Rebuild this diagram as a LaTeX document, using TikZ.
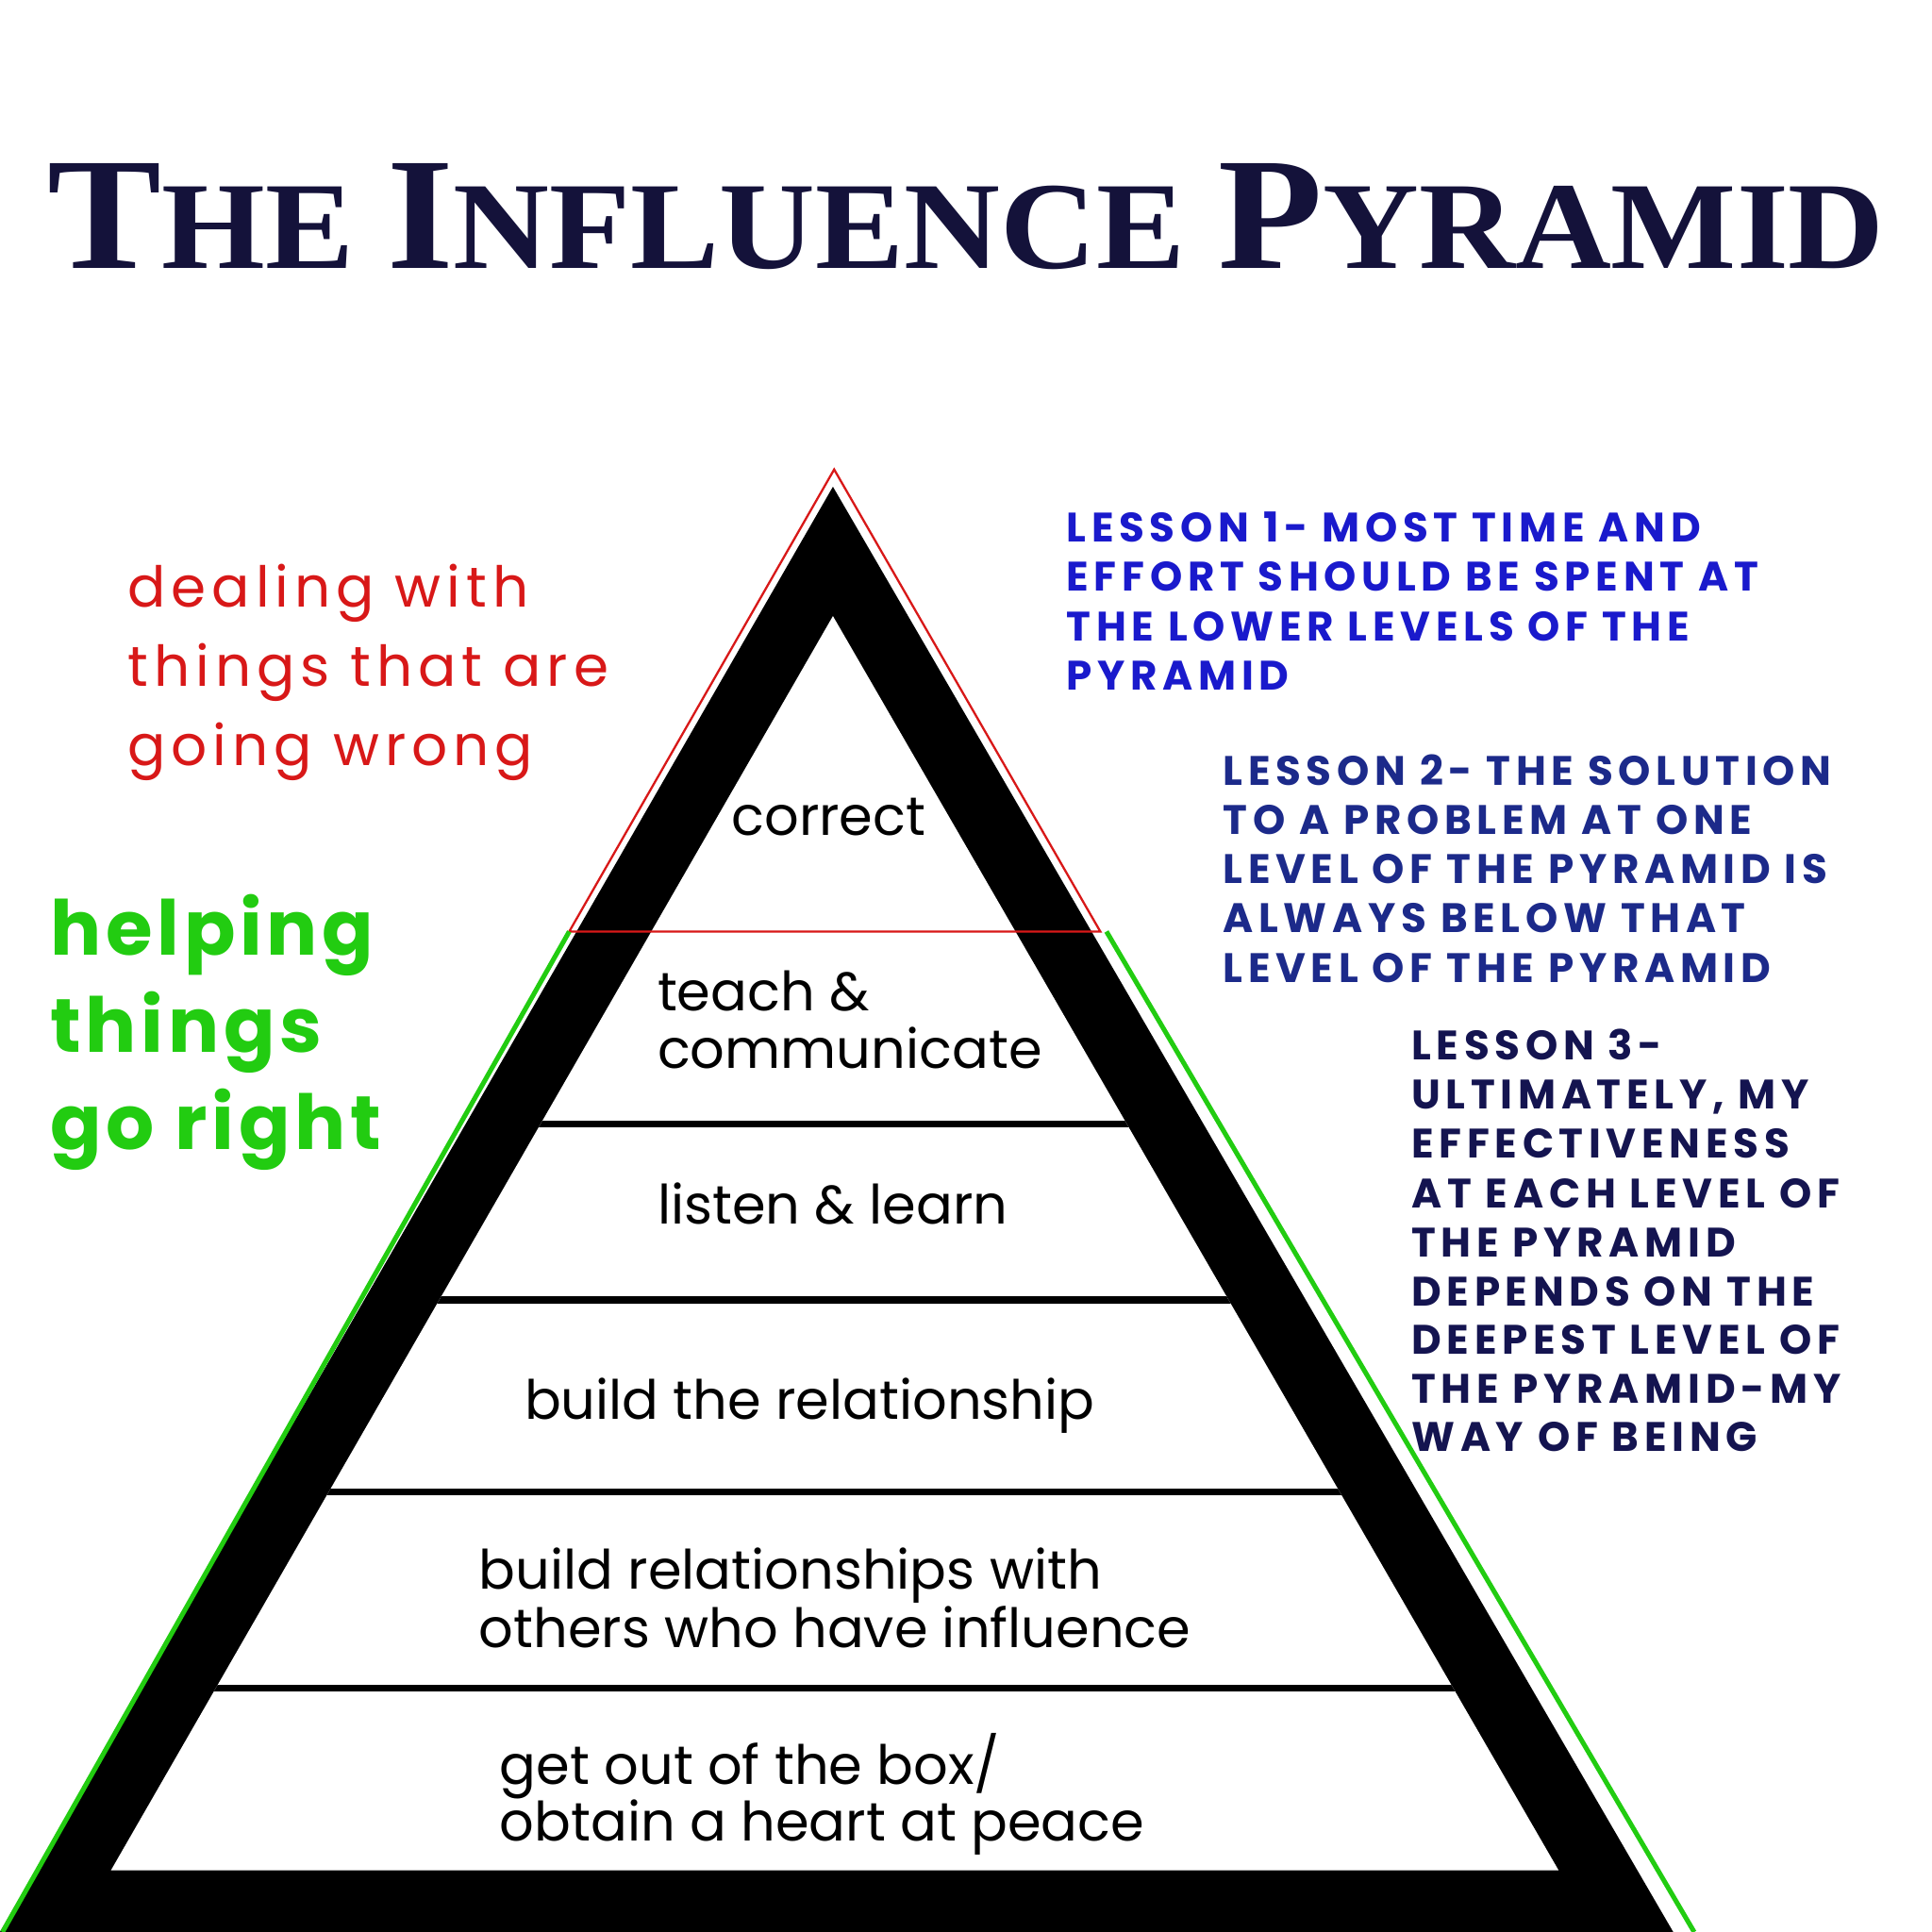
\documentclass[tikz,border=0pt]{standalone}
\usepackage{fontspec}
\setmainfont{Poppins}
\newfontfamily\titlefont{Liberation Serif}
\newfontfamily\lessonfont[LetterSpace=13]{Poppins}
\newfontfamily\redfont[LetterSpace=10]{Poppins}
\newfontfamily\grfont[LetterSpace=6]{Poppins}
\definecolor{navy}{HTML}{14123A}
\definecolor{lone}{HTML}{1A1ACC}
\definecolor{ltwo}{HTML}{1C2A8A}
\definecolor{lthree}{HTML}{141450}
\definecolor{rd}{HTML}{D81818}
\definecolor{gr}{HTML}{22CC11}
\tikzset{
 body/.style={anchor=base west,inner sep=0,font=\fontsize{12.5}{14}\selectfont},
 redtxt/.style={anchor=base west,inner sep=0,text=rd,font=\redfont\fontsize{13}{14}\selectfont},
 grtxt/.style={anchor=base west,inner sep=0,text=gr,font=\grfont\bfseries\fontsize{17.5}{19}\selectfont},
 les/.style={anchor=base west,inner sep=0,font=\lessonfont\bfseries\fontsize{9.5}{11}\selectfont},
}
\begin{document}
\begin{tikzpicture}[x=0.01cm,y=-0.01cm]
\useasboundingbox (0,0) rectangle (1568,1568);
\fill[white] (0,0) rectangle (1568,1568);
% title
\node[anchor=base west,inner sep=0,text=navy] (title) at (38,218)
 {\resizebox{14.9cm}{0.85cm}{\titlefont\bfseries\fontsize{36}{40}\selectfont T\fontsize{28}{30}\selectfont HE \fontsize{36}{40}\selectfont I\fontsize{28}{30}\selectfont NFLUENCE \fontsize{36}{40}\selectfont P\fontsize{28}{30}\selectfont YRAMID}};
% pyramid
\fill[black] (676,395) -- (0,1568) -- (1358,1568) -- cycle;
\fill[white] (676,500) -- (90,1518) -- (1265,1518) -- cycle;
\begin{scope}
\clip (676,500) -- (90,1518) -- (1265,1518) -- cycle;
\foreach \yy in {912,1055,1211,1370} \draw[line width=1.6pt] (0,\yy) -- (1568,\yy);
\end{scope}
\draw[rd,line width=0.5pt] (462,756) -- (677,381) -- (893,756) -- cycle;
\draw[gr,line width=1.1pt] (462,756) -- (2,1568);
\draw[gr,line width=1.1pt] (898,756) -- (1375,1568);
% level texts
\node[body] (l1) at (593,678) {correct};
\node[body] (l2a) at (533,820) {teach \&};
\node[body] (l2b) at (533,867) {communicate};
\node[body] (l3) at (533,993) {listen \& learn};
\node[body] (l4) at (425,1152) {build the relationship};
\node[body] (l5a) at (388,1290) {build relationships with};
\node[body] (l5b) at (388,1337) {others who have influence};
\node[body] (l6a) at (405,1448) {get out of the box/};
\node[body] (l6b) at (405,1494) {obtain a heart at peace};
% red
\node[redtxt] (r1) at (103,493) {dealing with};
\node[redtxt] (r2) at (103,557) {things that are};
\node[redtxt] (r3) at (103,621) {going wrong};
% green
\node[grtxt] (g1) at (40,775) {helping};
\node[grtxt] (g2) at (40,854) {things};
\node[grtxt] (g3) at (40,933) {go right};
% lessons
\node[les,text=lone] (a1) at (865,440) {LESSON 1- MOST TIME AND};
\node[les,text=lone] (a2) at (865,480) {EFFORT SHOULD BE SPENT AT};
\node[les,text=lone] (a3) at (865,520) {THE LOWER LEVELS OF THE};
\node[les,text=lone] (a4) at (865,560) {PYRAMID};
\node[les,text=ltwo] (b1) at (992,637) {LESSON 2- THE SOLUTION};
\node[les,text=ltwo] (b2) at (992,677) {TO A PROBLEM AT ONE};
\node[les,text=ltwo] (b3) at (992,717) {LEVEL OF THE PYRAMID IS};
\node[les,text=ltwo] (b4) at (992,757) {ALWAYS BELOW THAT};
\node[les,text=ltwo] (b5) at (992,797) {LEVEL OF THE PYRAMID};
\node[les,text=lthree] (c1) at (1145,860) {LESSON 3-};
\node[les,text=lthree] (c2) at (1145,900) {ULTIMATELY, MY};
\node[les,text=lthree] (c3) at (1145,940) {EFFECTIVENESS};
\node[les,text=lthree] (c4) at (1145,980) {AT EACH LEVEL OF};
\node[les,text=lthree] (c5) at (1145,1020) {THE PYRAMID};
\node[les,text=lthree] (c6) at (1145,1060) {DEPENDS ON THE};
\node[les,text=lthree] (c7) at (1145,1099) {DEEPEST LEVEL OF};
\node[les,text=lthree] (c8) at (1145,1139) {THE PYRAMID-MY};
\node[les,text=lthree] (c9) at (1145,1178) {WAY OF BEING};
\end{tikzpicture}
\end{document}
